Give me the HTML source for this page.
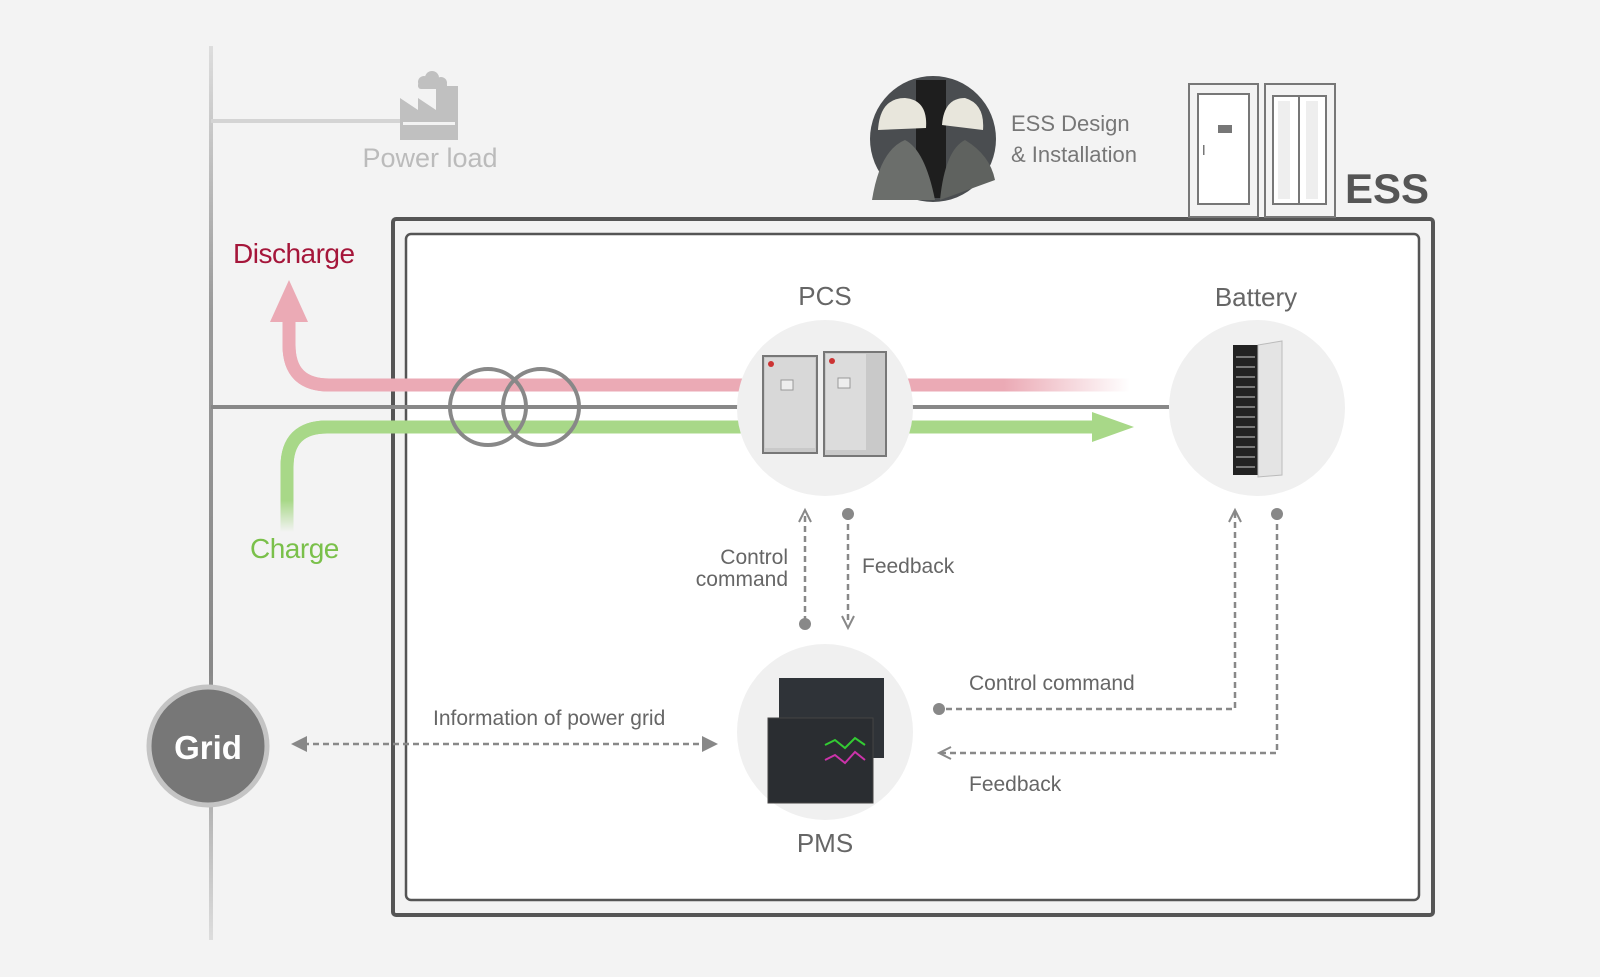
<!DOCTYPE html>
<html><head><meta charset="utf-8"><style>
html,body{margin:0;padding:0;background:#f3f3f3;}
svg{display:block;}
text{font-family:"Liberation Sans",sans-serif;}
</style></head><body>
<svg width="1600" height="977" viewBox="0 0 1600 977" xmlns="http://www.w3.org/2000/svg">
<defs>
<linearGradient id="vl" x1="0" y1="0" x2="0" y2="1">
<stop offset="0" stop-color="#ddd"/><stop offset="0.3" stop-color="#999"/><stop offset="0.7" stop-color="#888"/><stop offset="1" stop-color="#ddd"/>
</linearGradient>
<linearGradient id="pf" x1="0" y1="0" x2="1" y2="0">
<stop offset="0" stop-color="#ebaab5"/><stop offset="0.85" stop-color="#ebaab5"/><stop offset="1" stop-color="#ebaab5" stop-opacity="0"/>
</linearGradient>
<linearGradient id="gf" x1="0" y1="1" x2="0" y2="0">
<stop offset="0" stop-color="#a8d888" stop-opacity="0"/><stop offset="0.3" stop-color="#a8d888"/><stop offset="1" stop-color="#a8d888"/>
</linearGradient>
</defs>
<rect width="1600" height="977" fill="#f3f3f3"/>
<!-- grid vertical line -->
<rect x="209" y="46" width="4" height="894" fill="url(#vl)"/>
<!-- power load -->
<rect x="211" y="119" width="192" height="4" fill="#d4d4d4"/>
<g fill="#c0c0c0">
<path d="M400 140 V98 L418 110 V98 L436 110 V86 H458 V140 Z"/>
<rect x="403" y="122" width="52" height="3" fill="#f3f3f3"/>
<circle cx="424" cy="82" r="6"/><circle cx="432" cy="78" r="7"/><circle cx="441" cy="83" r="6"/><rect x="418" y="82" width="29" height="7" rx="3"/>
</g>
<text x="430" y="167" font-size="27" fill="#bbb" text-anchor="middle">Power load</text>
<!-- outer & inner box -->
<rect x="393" y="219" width="1040" height="696" fill="#f3f3f3" stroke="#555" stroke-width="4" rx="3"/>
<rect x="406" y="234" width="1013" height="666" fill="#fff" stroke="#555" stroke-width="2.5" rx="5"/>
<!-- discharge -->
<text x="233" y="263" font-size="28" fill="#a5163a" letter-spacing="-0.5">Discharge</text>
<path d="M289 320 V345 Q289 385 329 385 H1130" fill="none" stroke="url(#pf)" stroke-width="13"/>
<path d="M289 322 V345 Q289 385 329 385 H740" fill="none" stroke="#ebaab5" stroke-width="13"/>
<polygon points="289,280 270,322 308,322" fill="#ebaab5"/>
<!-- gray line -->
<rect x="211" y="405" width="958" height="4" fill="#888"/>
<!-- charge -->
<path d="M287 532 V467 Q287 427 327 427 H1095" fill="none" stroke="url(#gf)" stroke-width="13"/>
<path d="M287 480 V467 Q287 427 327 427 H1095" fill="none" stroke="#a8d888" stroke-width="13"/>
<polygon points="1134,427 1092,412 1092,442" fill="#a8d888"/>
<text x="250" y="558" font-size="28" fill="#7ac04a" letter-spacing="-0.5">Charge</text>
<!-- transformer -->
<circle cx="488" cy="407" r="38" fill="none" stroke="#888" stroke-width="4"/>
<circle cx="541" cy="407" r="38" fill="none" stroke="#888" stroke-width="4"/>
<!-- PCS -->
<text x="825" y="305" font-size="26" fill="#666" text-anchor="middle">PCS</text>
<circle cx="825" cy="408" r="88" fill="#f0f0f0"/>
<rect x="763" y="356" width="54" height="97" fill="#c9c9c9" stroke="#777" stroke-width="2"/>
<rect x="765" y="358" width="50" height="90" fill="#d8d8d8"/>
<rect x="824" y="352" width="62" height="104" fill="#c9c9c9" stroke="#777" stroke-width="2"/>
<rect x="826" y="354" width="40" height="96" fill="#dcdcdc"/>
<circle cx="771" cy="364" r="3" fill="#c33"/><circle cx="832" cy="361" r="3" fill="#c33"/>
<rect x="781" y="380" width="12" height="10" fill="#eee" stroke="#999"/><rect x="838" y="378" width="12" height="10" fill="#eee" stroke="#999"/>
<!-- Battery -->
<text x="1256" y="306" font-size="26" fill="#666" text-anchor="middle">Battery</text>
<circle cx="1257" cy="408" r="88" fill="#f0f0f0"/>
<rect x="1233" y="345" width="25" height="130" fill="#222"/>
<g fill="#777"><rect x="1236" y="356" width="19" height="2"/><rect x="1236" y="366" width="19" height="2"/><rect x="1236" y="376" width="19" height="2"/><rect x="1236" y="386" width="19" height="2"/><rect x="1236" y="396" width="19" height="2"/><rect x="1236" y="406" width="19" height="2"/><rect x="1236" y="416" width="19" height="2"/><rect x="1236" y="426" width="19" height="2"/><rect x="1236" y="436" width="19" height="2"/><rect x="1236" y="446" width="19" height="2"/><rect x="1236" y="456" width="19" height="2"/><rect x="1236" y="466" width="19" height="2"/></g>
<polygon points="1258,345 1282,341 1282,475 1258,477" fill="#e4e4e4" stroke="#bbb"/>
<!-- PMS -->
<circle cx="825" cy="732" r="88" fill="#f0f0f0"/>
<rect x="779" y="678" width="105" height="80" fill="#2f3338"/>
<rect x="768" y="718" width="105" height="85" fill="#2a2d31" stroke="#444"/>
<polyline points="825,745 835,740 845,748 855,738 865,745" fill="none" stroke="#3c3" stroke-width="2"/>
<polyline points="825,760 835,755 845,763 855,752 865,760" fill="none" stroke="#c3a" stroke-width="2"/>
<text x="825" y="852" font-size="26" fill="#666" text-anchor="middle">PMS</text>
<!-- dashed PCS -->
<g stroke="#888" stroke-width="2.5" stroke-dasharray="6,4" fill="none">
<line x1="805" y1="622" x2="805" y2="512"/>
<line x1="848" y1="514" x2="848" y2="624"/>
<polyline points="1235,512 1235,709 940,709"/>
<polyline points="1277,514 1277,753 941,753"/>
<line x1="303" y1="744" x2="708" y2="744"/>
</g>
<g stroke="#888" stroke-width="2" fill="none">
<polyline points="799,522 805,510 811,522"/>
<polyline points="842,616 848,628 854,616"/>
<polyline points="1229,522 1235,510 1241,522"/>
<polyline points="951,747 939,753 951,759"/>
</g>
<g fill="#888">
<circle cx="805" cy="624" r="6"/><circle cx="848" cy="514" r="6"/>
<circle cx="1277" cy="514" r="6"/><circle cx="939" cy="709" r="6"/>
<polygon points="291,744 307,736 307,752"/><polygon points="718,744 702,736 702,752"/>
</g>
<g font-size="21" fill="#666">
<text x="788" y="564" text-anchor="end">Control</text>
<text x="788" y="586" text-anchor="end">command</text>
<text x="862" y="573">Feedback</text>
<text x="969" y="690">Control command</text>
<text x="969" y="791">Feedback</text>
<text x="433" y="725">Information of power grid</text>
</g>
<!-- Grid -->
<circle cx="208" cy="746" r="59" fill="#777" stroke="#c4c4c4" stroke-width="5"/>
<text x="208" y="759" font-size="33" font-weight="bold" fill="#fff" text-anchor="middle">Grid</text>
<!-- photo -->
<circle cx="933" cy="139" r="63" fill="#4a4d50"/>
<rect x="916" y="80" width="30" height="118" fill="#1e1e1e"/>
<path d="M878 130 Q880 98 905 98 Q928 100 926 128 Z" fill="#e8e6dc"/>
<path d="M942 125 Q944 98 965 98 Q985 104 983 130 Z" fill="#e8e6dc"/>
<path d="M872 200 Q880 150 905 140 Q925 150 935 200 Z" fill="#6b6e6b"/>
<path d="M940 200 Q945 150 965 140 Q990 155 995 180 Z" fill="#5f625f"/>
<text x="1011" y="131" font-size="22" fill="#777">ESS Design</text>
<text x="1011" y="162" font-size="22" fill="#777">&amp; Installation</text>
<!-- cabinets -->
<g stroke="#777" stroke-width="2" fill="#f3f3f3">
<rect x="1189" y="84" width="69" height="133"/>
<rect x="1198" y="94" width="51" height="110" fill="#fff"/>
<rect x="1265" y="84" width="70" height="133"/>
<rect x="1273" y="96" width="53" height="108" fill="#fff"/>
<line x1="1299" y1="96" x2="1299" y2="204"/>
</g>
<rect x="1278" y="101" width="12" height="98" fill="#eee"/><rect x="1306" y="101" width="12" height="98" fill="#eee"/>
<rect x="1218" y="125" width="14" height="8" fill="#777"/>
<rect x="1203" y="145" width="1.5" height="10" fill="#777"/>
<text x="1345" y="203" font-size="42" font-weight="bold" fill="#555">ESS</text>
</svg>
</body></html>
